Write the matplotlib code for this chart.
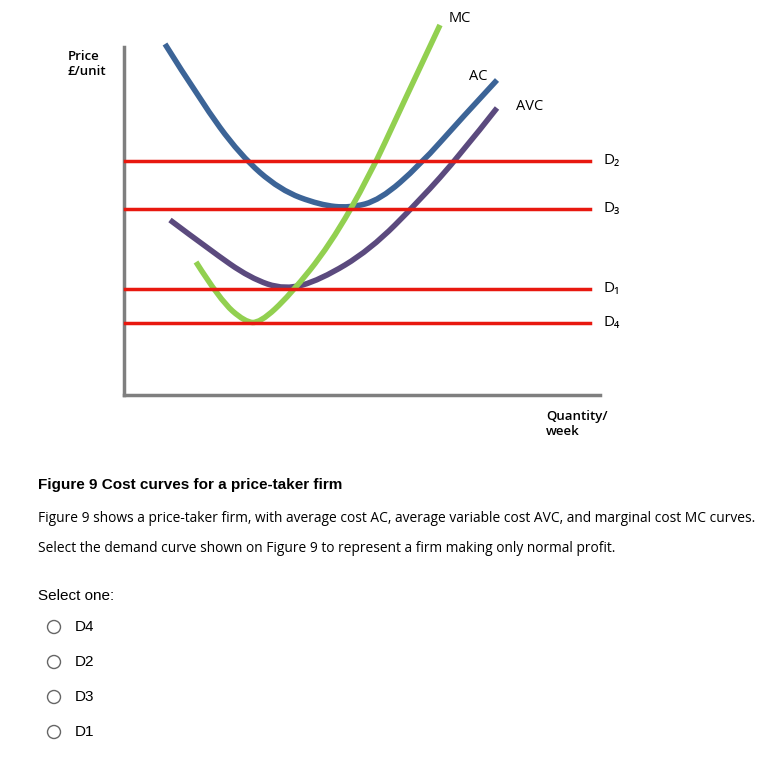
import matplotlib
matplotlib.use("Agg")
import matplotlib.pyplot as plt
from matplotlib.patches import Circle, PathPatch
from matplotlib.path import Path

ac_x = [165, 200, 240, 280, 320, 350, 380, 420, 460, 497]
ac_y = [44, 100, 155, 190, 205, 208, 200, 165, 120, 80]
avc_x = [170, 210, 250, 285, 320, 370, 420, 460, 497]
avc_y = [220, 250, 278, 290, 280, 250, 200, 155, 108]
mc_x = [196, 220, 245, 260, 290, 330, 370, 400, 440]
mc_y = [262, 300, 322, 323, 295, 245, 175, 110, 25]
demand_labels = ["D₂", "D₃", "D₁", "D₄"]
demand_y = [161, 209, 289, 323]
options = ["D4", "D2", "D3", "D1"]

def smooth(ax, xs, ys, color):
    pts = list(zip(xs, ys))
    verts = [pts[0]]
    codes = [Path.MOVETO]
    for i in range(1, len(pts) - 1):
        mid = ((pts[i][0] + pts[i + 1][0]) / 2, (pts[i][1] + pts[i + 1][1]) / 2)
        if i == len(pts) - 2:
            mid = pts[-1]
        verts += [pts[i], mid]
        codes += [Path.CURVE3, Path.CURVE3]
    ax.add_patch(PathPatch(Path(verts, codes), fill=False, ec=color, lw=4, capstyle="butt"))

fig = plt.figure(figsize=(7.65, 7.64), dpi=100)
ax = fig.add_axes([0, 0, 1, 1])
ax.set_xlim(0, 765); ax.set_ylim(764, 0); ax.axis("off")

ax.plot([124, 124], [47, 395], color="#7f7f7f", lw=2.5)
ax.plot([124, 600], [395, 395], color="#7f7f7f", lw=2.5)
for lab, y in zip(demand_labels, demand_y):
    ax.plot([125, 590], [y, y], color="#e8180f", lw=2.5)
    ax.text(604, y, lab, fontsize=11, va="center", family="Open Sans")
smooth(ax, avc_x, avc_y, "#5b4a7e")
smooth(ax, ac_x, ac_y, "#3c6497")
smooth(ax, mc_x, mc_y, "#92d050")

ax.text(449, 18, "MC", fontsize=10.5, va="center", family="Open Sans")
ax.text(469, 77, "AC", fontsize=10.5, va="center", family="Open Sans")
ax.text(516, 106, "AVC", fontsize=10.5, va="center", family="Open Sans")
ax.text(68, 64, "Price\n£/unit", fontsize=9.5, va="center", family="Open Sans", weight="semibold", linespacing=1.2)
ax.text(546, 424, "Quantity/\nweek", fontsize=9.5, va="center", family="Open Sans", weight="semibold", linespacing=1.2)

ax.text(38, 485, "Figure 9 Cost curves for a price-taker firm", fontsize=11, weight="bold", va="center", family="Liberation Sans")
ax.text(38, 519, "Figure 9 shows a price-taker firm, with average cost AC, average variable cost AVC, and marginal cost MC curves.", fontsize=9.9, va="center", family="Open Sans")
ax.text(38, 548, "Select the demand curve shown on Figure 9 to represent a firm making only normal profit.", fontsize=9.9, va="center", family="Open Sans")
ax.text(38, 596, "Select one:", fontsize=11, va="center", family="Liberation Sans")
for i, o in enumerate(options):
    y = 627 + i * 35
    ax.add_patch(Circle((54, y), 6.5, fill=False, ec="#666666", lw=1))
    ax.text(75, y, o, fontsize=11, va="center", family="Liberation Sans")

fig.savefig("out.png", dpi=100)
